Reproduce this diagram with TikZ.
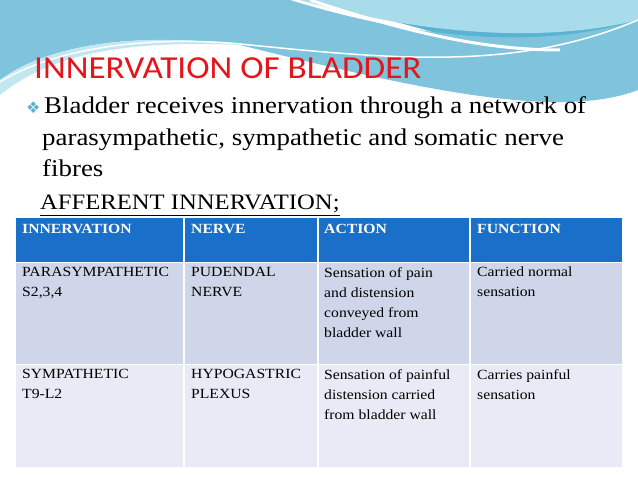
\documentclass[tikz,border=0pt]{standalone}
\usepackage{fontspec}
\setmainfont{Liberation Serif}[FakeStretch=1.12]
\newfontfamily\titlefont{Carlito}[FakeStretch=1.1]
\newfontfamily\symfont{DejaVu Sans}
\usetikzlibrary{positioning}
\definecolor{hdr}{HTML}{1A6FC8}
\definecolor{rowa}{HTML}{CFD6EA}
\definecolor{rowb}{HTML}{E8EBF5}
\definecolor{wave1}{HTML}{7FC4DC}
\definecolor{wave2}{HTML}{A8DCEA}
\definecolor{wave3}{HTML}{5AB3D3}
\definecolor{ttl}{HTML}{E3161B}
\tikzset{
 cell/.style={anchor=north west,inner sep=0pt,align=left,font=\fontsize{14}{20}\selectfont},
 hcell/.style={anchor=north west,inner sep=0pt,text=white,font=\fontsize{14}{18}\selectfont\bfseries},
 line/.style={anchor=base west,inner sep=0pt,font=\fontsize{24}{26}\selectfont},
}
\begin{document}
\begin{tikzpicture}[x=1pt,y=-1pt]
\useasboundingbox (0,0) rectangle (638,478);
\fill[white] (0,0) rectangle (638,478);
% waves
\fill[wave3] (0,0) -- (300,0) .. controls (420,20) and (520,70) .. (638,70) -- (638,0) -- cycle;
\fill[wave1] (0,0) -- (290,0) .. controls (420,40) and (540,50) .. (638,20) -- (638,90) .. controls (560,120) and (420,90) .. (240,45) .. controls (120,30) and (40,50) .. (0,80) -- cycle;
\fill[wave2] (300,0) -- (638,0) -- (638,20) .. controls (560,40) and (440,40) .. (300,0) -- cycle;
\fill[wave2!70!white] (0,80) .. controls (40,50) and (120,30) .. (240,45) .. controls (120,40) and (50,55) .. (0,95) -- cycle;
\draw[white,line width=1.5pt] (0,82) .. controls (60,45) and (160,35) .. (250,45) .. controls (400,60) and (520,70) .. (638,20);
\draw[white,line width=3pt] (310,0) .. controls (400,30) and (480,50) .. (560,50);
% title
\node[anchor=base west,inner sep=0pt,text=ttl,font=\titlefont\fontsize{32}{34}\selectfont] (title) at (34,79) {INNERVATION OF BLADDER};
\node[anchor=base west,inner sep=0pt,text=wave3,font=\symfont\fontsize{16}{16}\selectfont] (bul) at (26,114) {❖};
\node[line] (l1) at (44,114) {Bladder receives innervation through a network of};
\node[line] (l2) at (42,146) {parasympathetic, sympathetic and somatic nerve};
\node[line] (l3) at (42,177) {fibres};
\node[anchor=base west,inner sep=0pt,font=\fontsize{22}{24}\selectfont] (aff) at (40,210) {\underline{AFFERENT INNERVATION;}};
% table
\fill[hdr] (16,218) rectangle (622,262);
\fill[rowa] (16,263) rectangle (622,364);
\fill[rowb] (16,365) rectangle (622,467);
\foreach \x in {184,318,470}{\draw[white,line width=1.5pt] (\x,218) -- (\x,467);}
\draw[white,line width=1.5pt] (16,262.5) -- (622,262.5);
\draw[white,line width=1.5pt] (16,364.5) -- (622,364.5);
\node[hcell] (h1) at (22,224) {INNERVATION};
\node[hcell] (h2) at (191,224) {NERVE};
\node[hcell] (h3) at (324,224) {ACTION};
\node[hcell] (h4) at (477,224) {FUNCTION};
\node[cell] (a1) at (22,267) {PARASYMPATHETIC\\S2,3,4};
\node[cell] (a2) at (191,267) {PUDENDAL\\NERVE};
\node[cell] (a3) at (324,267) {Sensation of pain\\and distension\\conveyed from\\bladder wall};
\node[cell] (a4) at (477,267) {Carried normal\\sensation};
\node[cell] (b1) at (22,369) {SYMPATHETIC\\T9-L2};
\node[cell] (b2) at (191,369) {HYPOGASTRIC\\PLEXUS};
\node[cell] (b3) at (324,369) {Sensation of painful\\distension carried\\from bladder wall};
\node[cell] (b4) at (477,369) {Carries painful\\sensation};
\end{tikzpicture}
\end{document}
